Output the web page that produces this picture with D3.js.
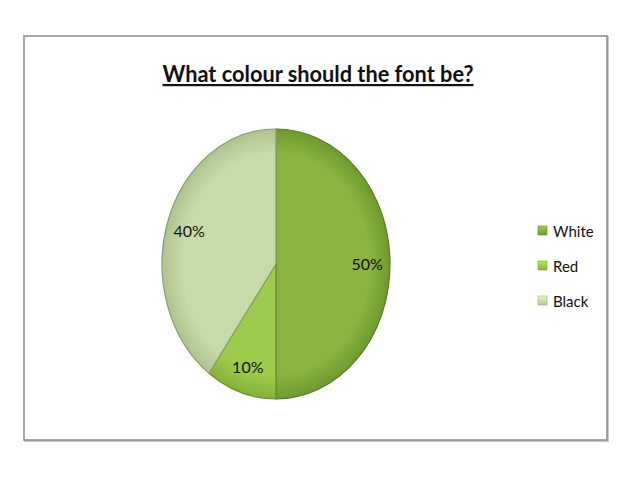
<!DOCTYPE html>
<html><head><meta charset="utf-8">
<script src="https://cdn.jsdelivr.net/npm/d3@7"></script>
<style>html,body{margin:0;padding:0;background:#fff;}svg{display:block;}</style>
</head><body>
<svg id="chart" width="638" height="478"></svg>
<script>
const categories = ["White", "Red", "Black"];
const values = [50, 10, 40];
const labels = ["50%", "10%", "40%"];
const title = "What colour should the font be?";

const baseColors = ["#8bb441", "#9fcb4c", "#c7dba8"];
const edgeColors = ["#6e9a2e", "#84b238", "#aec48f"];

const svg = d3.select("#chart");

// frame
svg.append("rect").attr("x", 25).attr("y", 37).attr("width", 583).attr("height", 404)
  .attr("fill", "#fff").attr("stroke", "#c8c8c8").attr("stroke-width", 2);
svg.append("rect").attr("x", 24).attr("y", 36).attr("width", 583).attr("height", 404)
  .attr("fill", "#fff").attr("stroke", "#8a8a8a").attr("stroke-width", 1.5);

// title
svg.append("text").attr("x", 318).attr("y", 82).attr("text-anchor", "middle")
  .attr("font-family", "Lato, 'Open Sans', sans-serif").attr("font-weight", "bold")
  .attr("font-size", 22).attr("fill", "#111").attr("text-decoration", "underline")
  .attr("textLength", 311).attr("lengthAdjust", "spacingAndGlyphs")
  .text(title);

// pie
const cx = 276, cy = 264, rx = 114, ry = 135;
const sx = rx / ry;
const defs = svg.append("defs");
const color = d3.scaleOrdinal().domain(categories).range(baseColors);
const edge = d3.scaleOrdinal().domain(categories).range(edgeColors);

categories.forEach((c, i) => {
  const g = defs.append("radialGradient").attr("id", "g" + i)
    .attr("gradientUnits", "userSpaceOnUse").attr("cx", 0).attr("cy", 0).attr("r", ry);
  g.append("stop").attr("offset", "0%").attr("stop-color", color(c));
  g.append("stop").attr("offset", "82%").attr("stop-color", color(c));
  g.append("stop").attr("offset", "100%").attr("stop-color", edge(c));
  const lg = defs.append("linearGradient").attr("id", "lg" + i)
    .attr("x1", 0).attr("y1", 0).attr("x2", 0).attr("y2", 1);
  lg.append("stop").attr("offset", "0%").attr("stop-color", d3.color(color(c)).brighter(0.4));
  lg.append("stop").attr("offset", "100%").attr("stop-color", edge(c));
});

const pie = d3.pie().sort(null).value(d => d.v);
const data = pie(categories.map((c, i) => ({ c, v: values[i], l: labels[i], i })));
const arc = d3.arc().innerRadius(0).outerRadius(ry);
const labelArc = d3.arc().innerRadius(ry * 0.8).outerRadius(ry * 0.8);

const pg = svg.append("g").attr("transform", `translate(${cx},${cy}) scale(${sx},1)`);
pg.selectAll("path").data(data).enter().append("path")
  .attr("d", arc)
  .attr("fill", d => `url(#g${d.data.i})`)
  .attr("stroke", d => d3.color(edge(d.data.c)).darker(0.6))
  .attr("stroke-width", 1.2)
  .attr("vector-effect", "non-scaling-stroke");

svg.selectAll("text.lbl").data(data).enter().append("text").attr("class", "lbl")
  .attr("x", d => cx + labelArc.centroid(d)[0] * sx)
  .attr("y", d => cy + labelArc.centroid(d)[1])
  .attr("dy", "0.4em").attr("text-anchor", "middle")
  .attr("font-family", "Lato, 'Open Sans', sans-serif").attr("font-size", 16)
  .attr("fill", "#111").text(d => d.data.l);

// legend
const lgG = svg.append("g");
const ly = d3.scalePoint().domain(categories).range([231, 301]);
categories.forEach((c, i) => {
  lgG.append("rect").attr("x", 538).attr("y", ly(c) - 5).attr("width", 9).attr("height", 9)
    .attr("fill", `url(#lg${i})`).attr("stroke", d3.color(edge(c)).darker(0.3)).attr("stroke-width", 0.6);
  lgG.append("text").attr("x", 553).attr("y", ly(c)).attr("dy", "0.37em")
    .attr("font-family", "Lato, 'Open Sans', sans-serif").attr("font-size", 15)
    .attr("fill", "#111").text(c);
});
</script>
</body></html>
